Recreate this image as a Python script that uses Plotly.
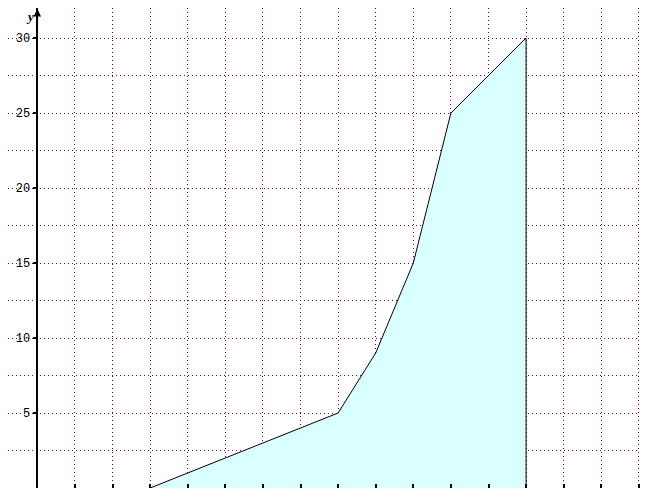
'''
Area under a piecewise-linear curve on a dotted grid
'''
import plotly.graph_objects as go

# curve vertices, closed down to the x-axis on the right:
xValues = [3, 8, 9, 10, 11, 13, 13]
yValues = [0, 5, 9, 15, 25, 30, 0]

# y-axis tick labels:
yTicks = [5, 10, 15, 20, 25, 30]
yTickText = [str(v) for v in yTicks]

# the page body adds an 8px margin, so the figure is 8px smaller than the window:
width = 640
height = 482
plotHeight = 480
originX = 29.3      # pixel column of x = 0 inside the figure
xUnit = 37.6        # pixels per x unit
yUnit = 15.0        # pixels per y unit

gridColor = '#660066'
gridDash = '1px,3px'
fillColor = '#daffff'

fig = go.Figure()
fig.add_trace(go.Scatter(x = xValues, y = yValues, mode = 'lines', fill = 'tozeroy',
                         fillcolor = fillColor, line = dict(color = 'black', width = 1),
                         hoverinfo = 'skip', showlegend = False))

xMin = -originX / xUnit
xMax = (width - originX) / xUnit
yMax = plotHeight / yUnit

fig.update_layout(
    width = width, height = height,
    margin = dict(l = 0, r = 0, t = 0, b = height - plotHeight, pad = 0),
    plot_bgcolor = 'white', paper_bgcolor = 'white',
    showlegend = False,
    xaxis = dict(range = [xMin, xMax], tick0 = 0, dtick = 1, showgrid = True,
                 gridcolor = gridColor, griddash = gridDash, gridwidth = 1,
                 zeroline = False, showline = False, showticklabels = False,
                 ticks = 'inside', ticklen = 4, tickwidth = 1.5, tickcolor = 'black'),
    yaxis = dict(range = [0, yMax], tickmode = 'array', tickvals = yTicks, ticktext = yTickText,
                 anchor = 'free', position = originX / width, side = 'left',
                 showgrid = True, gridcolor = gridColor, griddash = gridDash, gridwidth = 1,
                 minor = dict(tick0 = 0, dtick = 2.5, showgrid = True, gridcolor = gridColor,
                              griddash = gridDash, gridwidth = 1),
                 zeroline = False, showline = True, linecolor = 'black', linewidth = 1.5,
                 ticks = 'outside', ticklen = 4, tickwidth = 1.5, tickcolor = 'black',
                 tickfont = dict(family = 'Liberation Mono', size = 12, color = 'black')),
    # second copy of the y-axis so the tick marks cross the axis line:
    yaxis2 = dict(range = [0, yMax], tickmode = 'array', tickvals = yTicks,
                  overlaying = 'y', anchor = 'free', position = originX / width, side = 'right',
                  showgrid = False, zeroline = False, showline = False, showticklabels = False,
                  ticks = 'outside', ticklen = 4, tickwidth = 1.5, tickcolor = 'black'),
)

# arrow head on top of the y-axis and its label:
fig.add_annotation(x = 0, y = 1, xref = 'x', yref = 'paper', text = '',
                   showarrow = True, arrowhead = 2, arrowsize = 1, arrowwidth = 1.5,
                   arrowcolor = 'black', ax = 0, ay = 20)
fig.add_annotation(x = 22 / width, y = 1, xref = 'paper', yref = 'paper',
                   text = '<b><i>y</i></b>', showarrow = False, xanchor = 'center', yanchor = 'top',
                   borderpad = 0, font = dict(family = 'Liberation Serif', size = 13, color = 'black'))

fig.write_html("out.html")
